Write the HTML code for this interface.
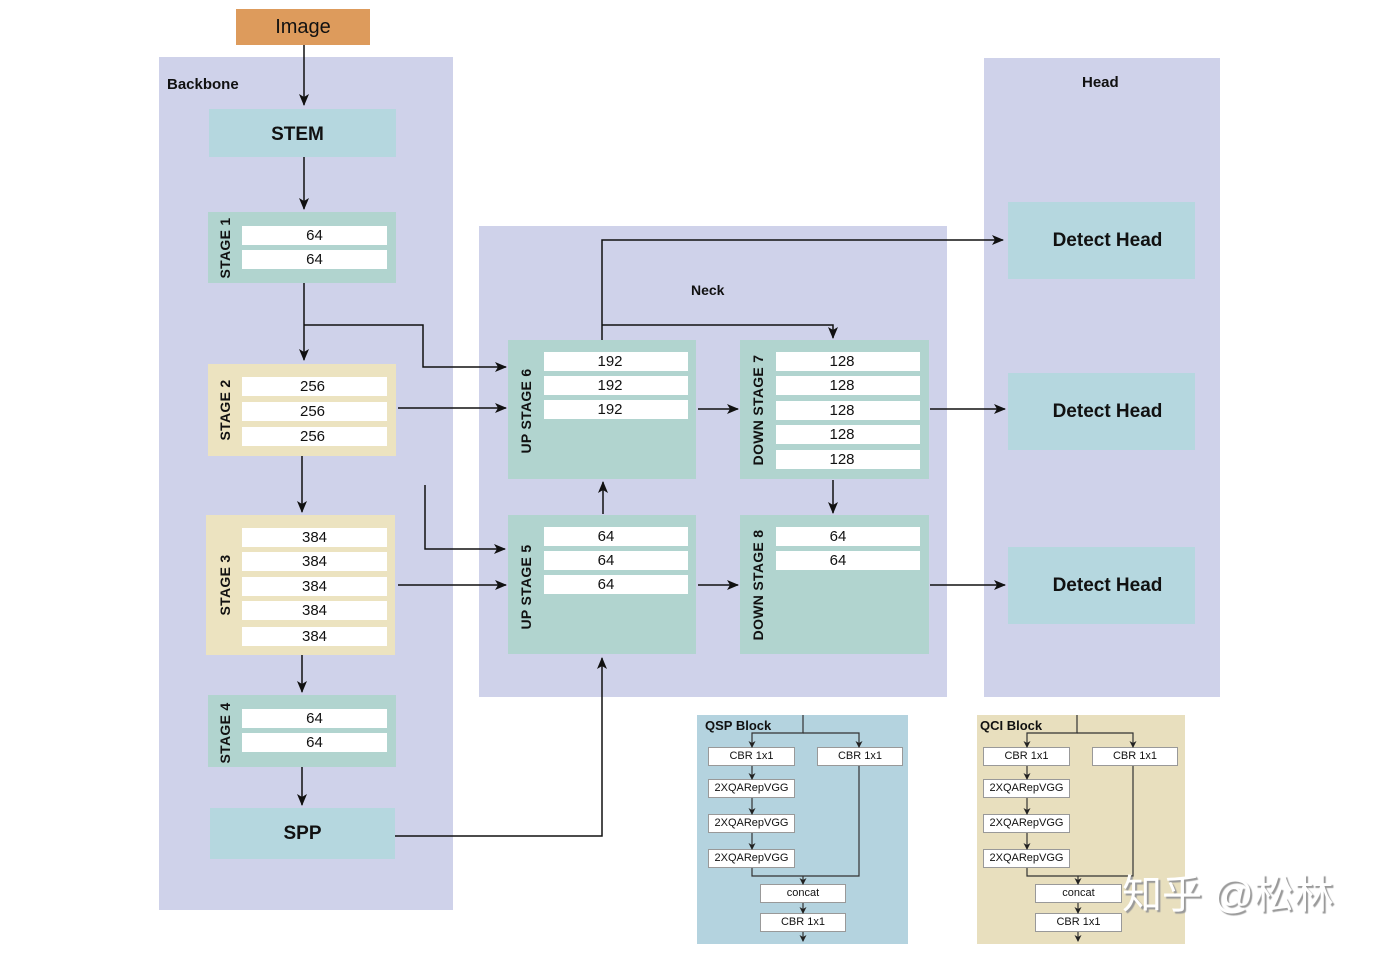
<!DOCTYPE html>
<html><head><meta charset="utf-8">
<style>
*{margin:0;padding:0;box-sizing:border-box}
body{width:1378px;height:954px;background:#fff;position:relative;overflow:hidden;font-family:"Liberation Sans",Arial,sans-serif;color:#111}
.a{position:absolute}
.panel{background:#cfd2ea}
.teal{background:#b1d4cf}
.beige{background:#ece3c0}
.blue{background:#b5d7df}
.row{position:absolute;background:#fff;text-align:center;font-size:15px;height:19px;line-height:19px}
.nk{padding-right:12px}
.lbl{position:absolute;font-weight:bold;font-size:15px}
.vt{position:absolute;font-weight:bold;font-size:14px;white-space:nowrap;transform:translate(-50%,-50%) rotate(-90deg);letter-spacing:0.3px}
.big{display:flex;align-items:center;justify-content:center;font-weight:bold;font-size:19px}
.sb{position:absolute;background:#fff;border:1px solid #999;font-size:11px;text-align:center;height:19px;line-height:17px}
</style></head><body>

<div class="a" style="left:236px;top:9px;width:134px;height:36px;background:#dd9b5c;display:flex;align-items:center;justify-content:center;font-size:20px">Image</div>

<div class="a panel" style="left:159px;top:57px;width:294px;height:853px"></div>
<div class="lbl" style="left:167px;top:76px">Backbone</div>
<div class="a blue big" style="left:209px;top:109px;width:187px;height:48px;padding-right:10px;padding-top:4px">STEM</div>

<div class="a teal" style="left:208px;top:212px;width:188px;height:71px"></div>
<div class="vt" style="left:225px;top:248px">STAGE 1</div>
<div class="row" style="left:242px;top:226px;width:145px">64</div>
<div class="row" style="left:242px;top:250px;width:145px">64</div>

<div class="a beige" style="left:208px;top:364px;width:188px;height:92px"></div>
<div class="vt" style="left:225px;top:410px">STAGE 2</div>
<div class="row" style="left:242px;top:377px;width:145px;padding-right:4px">256</div>
<div class="row" style="left:242px;top:402px;width:145px;padding-right:4px">256</div>
<div class="row" style="left:242px;top:427px;width:145px;padding-right:4px">256</div>

<div class="a beige" style="left:206px;top:515px;width:189px;height:140px"></div>
<div class="vt" style="left:225px;top:585px">STAGE 3</div>
<div class="row" style="left:242px;top:528px;width:145px">384</div>
<div class="row" style="left:242px;top:552px;width:145px">384</div>
<div class="row" style="left:242px;top:577px;width:145px">384</div>
<div class="row" style="left:242px;top:601px;width:145px">384</div>
<div class="row" style="left:242px;top:627px;width:145px">384</div>

<div class="a teal" style="left:208px;top:695px;width:188px;height:72px"></div>
<div class="vt" style="left:225px;top:733px">STAGE 4</div>
<div class="row" style="left:242px;top:709px;width:145px">64</div>
<div class="row" style="left:242px;top:733px;width:145px">64</div>

<div class="a blue big" style="left:210px;top:808px;width:185px;height:51px">SPP</div>

<!-- Neck -->
<div class="a panel" style="left:479px;top:226px;width:468px;height:471px"></div>
<div class="lbl" style="left:691px;top:282px;font-size:14px">Neck</div>

<div class="a teal" style="left:508px;top:340px;width:188px;height:139px"></div>
<div class="vt" style="left:526px;top:411px">UP STAGE 6</div>
<div class="row nk" style="left:544px;top:352px;width:144px">192</div>
<div class="row nk" style="left:544px;top:376px;width:144px">192</div>
<div class="row nk" style="left:544px;top:400px;width:144px">192</div>

<div class="a teal" style="left:740px;top:340px;width:189px;height:139px"></div>
<div class="vt" style="left:758px;top:410px">DOWN STAGE 7</div>
<div class="row nk" style="left:776px;top:352px;width:144px">128</div>
<div class="row nk" style="left:776px;top:376px;width:144px">128</div>
<div class="row nk" style="left:776px;top:401px;width:144px">128</div>
<div class="row nk" style="left:776px;top:425px;width:144px">128</div>
<div class="row nk" style="left:776px;top:450px;width:144px">128</div>

<div class="a teal" style="left:508px;top:515px;width:188px;height:139px"></div>
<div class="vt" style="left:526px;top:587px">UP STAGE 5</div>
<div class="row" style="left:544px;top:527px;width:144px;padding-right:20px">64</div>
<div class="row" style="left:544px;top:551px;width:144px;padding-right:20px">64</div>
<div class="row" style="left:544px;top:575px;width:144px;padding-right:20px">64</div>

<div class="a teal" style="left:740px;top:515px;width:189px;height:139px"></div>
<div class="vt" style="left:758px;top:585px">DOWN STAGE 8</div>
<div class="row" style="left:776px;top:527px;width:144px;padding-right:20px">64</div>
<div class="row" style="left:776px;top:551px;width:144px;padding-right:20px">64</div>

<!-- Head -->
<div class="a panel" style="left:984px;top:58px;width:236px;height:639px"></div>
<div class="lbl" style="left:1082px;top:74px">Head</div>
<div class="a blue big" style="left:1008px;top:202px;width:187px;height:77px;padding-left:12px">Detect Head</div>
<div class="a blue big" style="left:1008px;top:373px;width:187px;height:77px;padding-left:12px">Detect Head</div>
<div class="a blue big" style="left:1008px;top:547px;width:187px;height:77px;padding-left:12px">Detect Head</div>

<!-- QSP -->
<div class="a" style="left:697px;top:715px;width:211px;height:229px;background:#b4d3df"></div>
<div class="lbl" style="left:705px;top:718px;font-size:13px">QSP Block</div>
<div class="sb" style="left:708px;top:747px;width:87px">CBR 1x1</div>
<div class="sb" style="left:817px;top:747px;width:86px">CBR 1x1</div>
<div class="sb" style="left:708px;top:779px;width:87px">2XQARepVGG</div>
<div class="sb" style="left:708px;top:814px;width:87px">2XQARepVGG</div>
<div class="sb" style="left:708px;top:849px;width:87px">2XQARepVGG</div>
<div class="sb" style="left:760px;top:884px;width:86px">concat</div>
<div class="sb" style="left:760px;top:913px;width:86px">CBR 1x1</div>

<!-- QCI -->
<div class="a" style="left:977px;top:715px;width:208px;height:229px;background:#e8dfbe"></div>
<div class="lbl" style="left:980px;top:718px;font-size:13px">QCI Block</div>
<div class="sb" style="left:983px;top:747px;width:87px">CBR 1x1</div>
<div class="sb" style="left:1092px;top:747px;width:86px">CBR 1x1</div>
<div class="sb" style="left:983px;top:779px;width:87px">2XQARepVGG</div>
<div class="sb" style="left:983px;top:814px;width:87px">2XQARepVGG</div>
<div class="sb" style="left:983px;top:849px;width:87px">2XQARepVGG</div>
<div class="sb" style="left:1035px;top:884px;width:87px">concat</div>
<div class="sb" style="left:1035px;top:913px;width:87px">CBR 1x1</div>

<svg class="a" style="left:0;top:0" width="1378" height="954">
<defs><marker id="m" markerWidth="12" markerHeight="12" refX="11" refY="6" orient="auto" markerUnits="userSpaceOnUse"><path d="M0,1 L12,6 L0,11 L3,6 Z" fill="#111"/></marker>
<marker id="s" markerWidth="7" markerHeight="7" refX="6" refY="3.5" orient="auto" markerUnits="userSpaceOnUse"><path d="M0,0 L7,3.5 L0,7 L2,3.5 Z" fill="#222"/></marker></defs>
<g stroke="#111" stroke-width="1.5" fill="none" marker-end="url(#m)">
<path d="M304,45 V105"/>
<path d="M304,157 V209"/>
<path d="M304,283 V360"/>
<path d="M304,325 H423 V367 H506"/>
<path d="M398,408 H506"/>
<path d="M302,456 V512"/>
<path d="M425,485 V549 H505"/>
<path d="M398,585 H506"/>
<path d="M302,655 V692"/>
<path d="M302,767 V805"/>
<path d="M395,836 H602 V658"/>
<path d="M603,514 V482"/>
<path d="M698,409 H738"/>
<path d="M602,340 V240 H1003"/>
<path d="M602,325 H833 V338"/>
<path d="M930,409 H1005"/>
<path d="M833,480 V513"/>
<path d="M698,585 H738"/>
<path d="M930,585 H1005"/>
</g>
<g stroke="#333" stroke-width="1.2" fill="none" marker-end="url(#s)">
<path d="M803,715 V733 H752 V747"/>
<path d="M803,733 H859 V747"/>
<path d="M752,766 V779"/>
<path d="M752,798 V814"/>
<path d="M752,833 V849"/>
<path d="M752,868 V876 H859 V766" marker-end="none"/>
<path d="M803,876 V884"/>
<path d="M803,903 V913"/>
<path d="M803,932 V941"/>
<path d="M1077,715 V733 H1027 V747"/>
<path d="M1077,733 H1133 V747"/>
<path d="M1027,766 V779"/>
<path d="M1027,798 V814"/>
<path d="M1027,833 V849"/>
<path d="M1027,868 V876 H1133 V766" marker-end="none"/>
<path d="M1078,876 V884"/>
<path d="M1078,903 V913"/>
<path d="M1078,932 V941"/>
</g>
</svg>

<div class="a" style="left:1122px;top:872px;font-size:40px;color:#fff;font-family:'Liberation Sans','Noto Sans CJK SC',sans-serif;text-shadow:2px 2px 1px #999;white-space:nowrap;line-height:46px">知乎 @松林</div>
</body></html>
